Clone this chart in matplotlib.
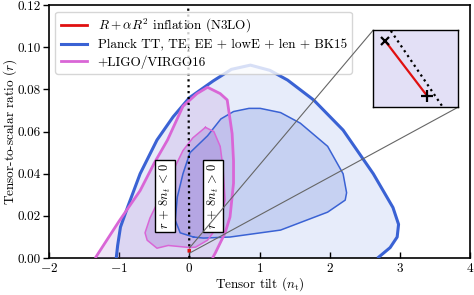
import numpy as np
import matplotlib
matplotlib.use("Agg")
import matplotlib.pyplot as plt
from matplotlib.lines import Line2D
from mpl_toolkits.axes_grid1.inset_locator import mark_inset

plt.rcParams['font.family'] = 'serif'
plt.rcParams['font.serif'] = ['cmr10', 'DejaVu Serif']
plt.rcParams['mathtext.fontset'] = 'cm'
plt.rcParams['axes.formatter.use_mathtext'] = True

# ---- data ----
planck95_nt = [-1.04, -1.02, -0.98, -0.88, -0.70, -0.46, -0.23, 0.0, 0.34, 0.60, 0.87,
               1.15, 1.40, 1.77, 2.19, 2.62, 2.90, 2.98, 2.96, 2.86, 2.68]
planck95_r = [0.0, 0.006, 0.0147, 0.024, 0.040, 0.056, 0.067, 0.076, 0.084, 0.0895, 0.0915,
              0.089, 0.0844, 0.075, 0.0607, 0.040, 0.024, 0.016, 0.010, 0.005, 0.0]

planck68_nt = [0.06, -0.13, -0.20, -0.17, -0.09, 0.01, 0.26, 0.45, 0.63, 0.85, 1.01, 1.30,
               1.58, 1.97, 2.19, 2.24, 2.22, 1.97, 1.30, 0.58, 0.20, 0.06]
planck68_r = [0.010, 0.012, 0.018, 0.029, 0.040, 0.050, 0.058, 0.066, 0.0695, 0.071, 0.071,
              0.069, 0.064, 0.053, 0.040, 0.031, 0.0275, 0.0218, 0.0133, 0.010, 0.0095, 0.010]

ligo95_nt = [-1.34, -1.00, -0.70, -0.50, -0.31, -0.09, 0.11, 0.26, 0.44, 0.54, 0.61, 0.63,
             0.63, 0.58, 0.51, 0.37, 0.33]
ligo95_r = [0.0, 0.0175, 0.032, 0.045, 0.056, 0.072, 0.078, 0.081, 0.078, 0.075, 0.059,
            0.046, 0.0355, 0.0195, 0.012, 0.0024, 0.0]

ligo68_nt = [0.23, 0.05, -0.09, -0.31, -0.56, -0.63, -0.60, -0.46, -0.30, 0.01, 0.09, 0.26,
             0.44, 0.51, 0.48, 0.44, 0.35, 0.23]
ligo68_r = [0.062, 0.057, 0.051, 0.036, 0.019, 0.012, 0.0085, 0.0047, 0.006, 0.005, 0.0052,
            0.0085, 0.0166, 0.0275, 0.043, 0.053, 0.060, 0.062]

n3lo_nt = [-0.000617, -0.000376]
n3lo_r = [0.00436, 0.00264]

consistency_r = [0.0, 0.12]

# ---- figure ----
fig = plt.figure(figsize=(4.74, 2.95), dpi=100)
ax = fig.add_axes([0.103, 0.125, 0.889, 0.858])

blue = '#3a62d4'
pink = '#d966d6'

ax.fill(planck95_nt, planck95_r, color='#e7ecfa', lw=0, zorder=1)
ax.fill(planck68_nt, planck68_r, color='#c6d1f2', lw=0, zorder=2)
ax.fill(ligo95_nt, ligo95_r, color='#b58ad8', alpha=0.22, lw=0, zorder=3)
ax.fill(ligo68_nt, ligo68_r, color='#9a6ad0', alpha=0.30, lw=0, zorder=4)

ax.plot(planck95_nt, planck95_r, color=blue, lw=2.2, zorder=5, solid_capstyle='butt')
ax.plot(planck68_nt, planck68_r, color=blue, lw=1.1, zorder=5)
ax.plot(ligo95_nt, ligo95_r, color=pink, lw=2.0, zorder=6, solid_capstyle='butt')
ax.plot(ligo68_nt, ligo68_r, color=pink, lw=1.1, zorder=6)

cr = np.array(consistency_r)
ax.plot(-cr / 8, cr, color='black', ls=':', lw=1.6, zorder=7)
ax.plot(n3lo_nt, n3lo_r, color='#e01010', lw=2.5, zorder=8, solid_capstyle='butt')

box = dict(boxstyle='square,pad=0.2', fc='white', ec='black', lw=1.0)
ax.text(-0.34, 0.0294, r'$r\,+\,8n_t\,<\,0$', rotation=90, ha='center', va='center',
        fontsize=9, bbox=box, zorder=9)
ax.text(0.34, 0.0294, r'$r\,+\,8n_t\,>\,0$', rotation=90, ha='center', va='center',
        fontsize=9, bbox=box, zorder=9)

ax.set_xlim(-2, 4)
ax.set_ylim(0, 0.12)
ax.set_xticks([-2, -1, 0, 1, 2, 3, 4])
ax.set_yticks([0.0, 0.02, 0.04, 0.06, 0.08, 0.10, 0.12])
ax.set_yticklabels(['0.00', '0.02', '0.04', '0.06', '0.08', '0.10', '0.12'])
ax.tick_params(axis='x', direction='in', length=4, width=1, labelsize=9.5, pad=3)
ax.tick_params(axis='y', direction='out', length=4, width=1, labelsize=9.5, pad=2)
for s in ax.spines.values():
    s.set_linewidth(1.2)
ax.set_xlabel(r'Tensor tilt ($n_\mathrm{t}$)', fontsize=9.5, labelpad=0)
ax.set_ylabel(r'Tensor-to-scalar ratio ($r$)', fontsize=9.5, va='center')
ax.yaxis.set_label_coords(-0.092, 0.5)

handles = [Line2D([], [], color='#e01010', lw=2),
           Line2D([], [], color=blue, lw=2.2),
           Line2D([], [], color=pink, lw=2)]
labels = [r'$R+\alpha R^2$ inflation (N3LO)',
          'Planck TT, TE, EE + lowE + len + BK15',
          '+LIGO/VIRGO16']
leg = ax.legend(handles, labels, loc='upper left', fontsize=9.5, framealpha=0.8,
                fancybox=True, borderaxespad=0.5, handlelength=2.0,
                labelspacing=0.3, bbox_to_anchor=(0.0, 1.0))
leg.set_zorder(20)

# ---- inset ----
axins = ax.inset_axes([0.770, 0.597, 0.202, 0.304])
axins.set_facecolor('#e3e0f6')
axins.plot(-cr / 8, cr, color='black', ls=':', lw=1.6)
axins.plot(n3lo_nt, n3lo_r, color='#e01010', lw=1.6)
axins.plot(n3lo_nt[0], n3lo_r[0], marker='x', color='black', ms=6, mew=1.6)
axins.plot(n3lo_nt[1], n3lo_r[1], marker='+', color='black', ms=8, mew=1.6)
axins.set_xlim(-0.000685, -0.000685 + 0.000487)
axins.set_ylim(0.0023, 0.0047)
axins.set_xticks([])
axins.set_yticks([])
for s in axins.spines.values():
    s.set_linewidth(1.0)
axins.set_zorder(21)
mark_inset(ax, axins, loc1=2, loc2=4, fc='none', ec='0.4', lw=0.8)

fig.savefig('out.png', dpi=100)
